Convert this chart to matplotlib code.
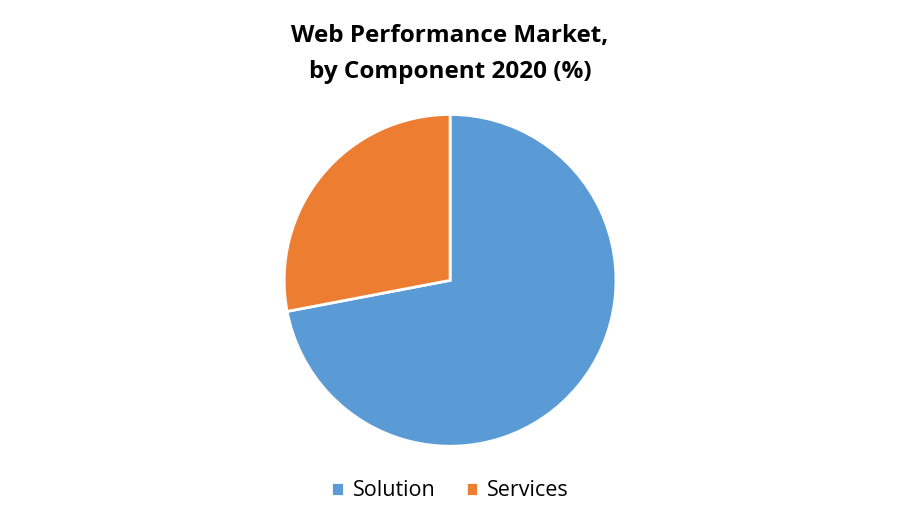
from matplotlib import pyplot as plt

components = ['Solution', 'Services']
shares = [72, 28]
colors = ['#5B9BD5', '#ED7D31']

plt.rcParams['font.family'] = ['Open Sans', 'DejaVu Sans']

fig = plt.figure(figsize=(9, 5.25), dpi=100)

# pie axis placed where the reference circle sits
ax = fig.add_axes([0.3156, 0.150, 0.369, 0.632])
wedges, _ = ax.pie(
    shares,
    colors=colors,
    startangle=90,
    counterclock=False,
    wedgeprops=dict(edgecolor='white', linewidth=2),
)
ax.set_xlim(-1, 1)
ax.set_ylim(-1, 1)
ax.set_aspect('equal')

fig.text(0.5, 0.897, 'Web Performance Market,\nby Component 2020 (%)',
         ha='center', va='center', fontsize=17.5, fontweight='bold',
         linespacing=1.65)

fig.legend(wedges, components, loc='center', bbox_to_anchor=(0.5, 0.065),
           ncol=2, frameon=False, fontsize=15.5, handlelength=0.6,
           handleheight=0.6, handletextpad=0.4, columnspacing=1.4)

fig.savefig('out.png', dpi=100)
